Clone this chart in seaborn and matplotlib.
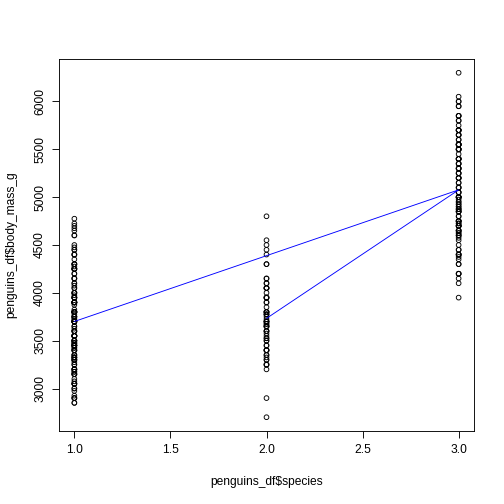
import matplotlib
matplotlib.use("Agg")
import matplotlib.pyplot as plt
import seaborn as sns
import pandas as pd

adelie = [3750,3800,3250,3450,3650,3625,4675,3475,4250,3300,3700,3200,3800,4400,3700,3450,4500,3325,4200,3400,3600,3800,3950,3800,3800,3550,3200,3150,3950,3250,3900,3300,3900,3325,4150,3950,3550,3300,4650,3150,3900,3100,4400,3000,4600,3425,2975,3450,4150,3500,4300,3450,4050,2900,3700,3550,3800,2850,3750,3150,4400,3600,4050,2850,3950,3350,4100,3050,4450,3600,3900,3550,4150,3700,4250,3700,3900,3550,4000,3200,4700,3800,4200,3350,3550,3800,3500,3950,3600,3550,4300,3400,4450,3300,4300,3700,4350,2900,4100,3725,4725,3075,4250,2925,3550,3750,3900,3175,4775,3825,4600,3200,4275,3900,4075,2900,3775,3350,3325,3150,3500,3450,3875,3050,4000,3275,4300,3050,4000,3325,3500,3500,4475,3425,3900,3175,3975,3400,4250,3400,3475,3050,3725,3000,3650,4250,3475,3450,3750,3700,4000]
chinstrap = [3500,3900,3650,3525,3725,3950,3250,3750,4150,3700,3800,3775,3700,4050,3575,4050,3300,3700,3450,4400,3600,3400,2900,3800,3300,4150,3400,3800,3700,4550,3200,4300,3350,4100,3600,3900,3850,4800,2700,4500,3950,3650,3550,3500,3675,4450,3400,4300,3250,3675,3325,3950,3600,4050,3350,3450,3250,4050,3800,3525,3950,3650,3650,4000,3400,3775,4100,3775]
gentoo = [4500,5700,4450,5700,5400,4550,4800,5200,4400,5150,4650,5550,4650,5850,4200,5850,4150,6300,4800,5350,5700,5000,4400,5050,5000,5100,4100,5650,4600,5550,5250,4700,5050,6050,5150,5400,4950,5250,4350,5350,3950,5700,4300,4750,5550,4900,4200,5400,5100,5300,4850,5300,4400,5000,4900,5050,4300,5000,4450,5550,4200,5300,4400,5650,4700,5700,4650,5800,4700,5550,4750,5000,5100,5200,4700,5800,4600,6000,4750,5950,4625,5450,4725,5350,4750,5600,4600,5300,4875,5550,4950,5400,4750,5650,4850,5200,4925,4875,4625,5250,4850,5600,4975,5500,4725,5500,4700,5500,4575,5500,5000,5950,4650,5500,4375,5850,4875,6000,4925,4850,5750,5200,5400]
species_codes = [1, 2, 3]
line_order = [1, 3, 2]
x_ticks = [1.0, 1.5, 2.0, 2.5, 3.0]
y_ticks = [3000, 3500, 4000, 4500, 5000, 5500, 6000]

df = pd.DataFrame({
    "species": [1]*len(adelie) + [2]*len(chinstrap) + [3]*len(gentoo),
    "mass": adelie + chinstrap + gentoo,
})
means = df.groupby("species")["mass"].mean()
mdf = pd.DataFrame({"species": line_order, "mass": [means[s] for s in line_order]})

sns.set_style("white")
plt.rcParams["font.family"] = ["Liberation Sans", "DejaVu Sans"]
plt.rcParams["text.color"] = "black"
plt.rcParams["axes.labelcolor"] = "black"
plt.rcParams["xtick.color"] = "black"
plt.rcParams["ytick.color"] = "black"

fig = plt.figure(figsize=(7, 7), dpi=72)
ax = fig.add_axes([59/504, (504-431)/504, (474-59)/504, (431-59)/504])

sns.scatterplot(data=df, x="species", y="mass", ax=ax, marker="o", s=22,
                facecolors="none", edgecolor="black", linewidth=0.9, zorder=2)
sns.lineplot(data=mdf, x="species", y="mass", ax=ax, sort=False, estimator=None,
             color="blue", linewidth=0.9, zorder=3)

ax.set_xlim(0.92, 3.08)
ax.set_ylim(2556, 6444)
ax.set_xticks(x_ticks)
ax.set_xticklabels([f"{v:.1f}" for v in x_ticks], fontsize=12, color="black")
ax.set_yticks(y_ticks)
ax.set_yticklabels([str(v) for v in y_ticks], fontsize=12, rotation=90, va="center", color="black")
ax.tick_params(axis="both", direction="out", length=7, width=0.9, color="black",
               left=True, bottom=True, pad=6)
for s in ax.spines.values():
    s.set_color("black")
    s.set_linewidth(0.9)
ax.set_xlabel("penguins_df\\$species", fontsize=12, labelpad=20, color="black")
ax.set_ylabel("penguins_df\\$body_mass_g", fontsize=12, labelpad=17, color="black")

fig.savefig("out.png", dpi=72, facecolor="white")
